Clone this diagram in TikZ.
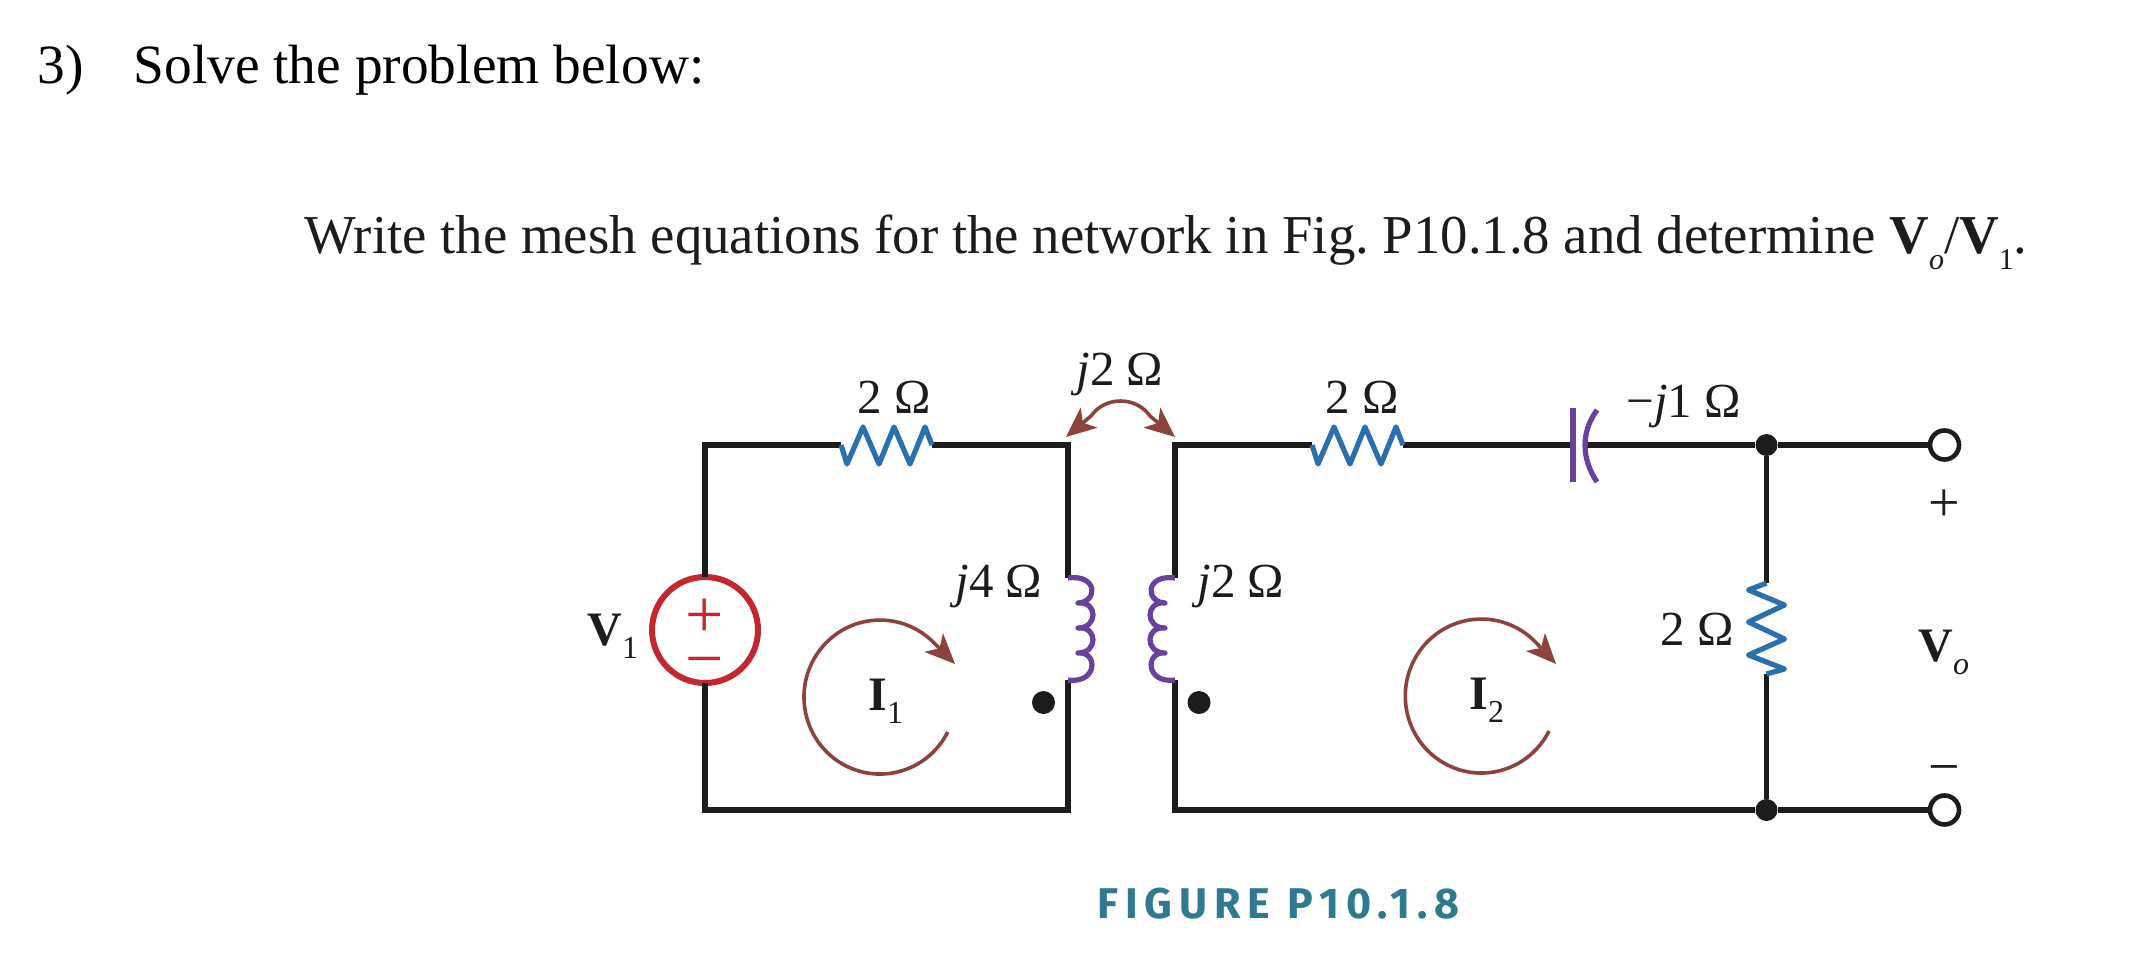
\documentclass[tikz,border=0pt]{standalone}
\usepackage{fontspec}
\setmainfont{Liberation Serif}
\newfontfamily\captionfont[LetterSpace=16]{Fira Sans}
\usetikzlibrary{arrows.meta}

\definecolor{inkblack}{HTML}{1C1C1C}
\definecolor{resblue}{HTML}{2B70AE}
\definecolor{srcred}{HTML}{C4282E}
\definecolor{coilpurple}{HTML}{68409E}
\definecolor{loopbrown}{HTML}{8E423D}
\definecolor{capteal}{HTML}{2F7A90}

\newcommand{\lowsub}[2]{\raisebox{-0.28em}{\fontsize{#1}{#1}\selectfont #2}}

\tikzset{
	wire/.style={line width=2.6pt, draw=inkblack},
	res/.style={line width=2.6pt, draw=resblue, line join=round},
	coil/.style={line width=2.6pt, draw=coilpurple, line join=round},
	loopi/.style={line width=1.8pt, draw=loopbrown},
	headi/.style={-{Stealth[length=15pt,width=13pt,inset=4pt,fill=loopbrown]}},
	headii/.style={{Stealth[length=15pt,width=13pt,inset=4pt,fill=loopbrown]}-{Stealth[length=15pt,width=13pt,inset=4pt,fill=loopbrown]}},
	lbl/.style={anchor=base west, inner sep=0pt, text=inkblack, font=\fontsize{24.5}{28}\selectfont},
	bold/.style={lbl, font=\fontsize{24}{28}\selectfont},
	sign/.style={anchor=base, inner sep=0pt, text=inkblack, font=\fontsize{28}{28}\selectfont},
	junct/.style={circle, fill=inkblack, inner sep=0pt, minimum size=11pt},
	dotm/.style={circle, fill=inkblack, inner sep=0pt, minimum size=11.5pt},
	term/.style={circle, draw=inkblack, fill=white, line width=2.3pt, inner sep=0pt, minimum size=14.5pt},
}

\begin{document}
\frenchspacing
\begin{tikzpicture}[x=0.5pt, y=-0.5pt]
	\useasboundingbox (0, 0) rectangle (2146, 968);

	\node[lbl, text=black, font=\fontsize{27.7}{32}\selectfont] (title) at (37, 84) {3)\hspace{25pt}Solve the problem below:};
	\node[lbl, font=\fontsize{27.4}{30}\selectfont] (prob) at (304, 254) {Write the mesh equations for the network in Fig. P10.1.8 and determine \textbf{V}\lowsub{15}{\textit{o}}/\textbf{V}\lowsub{15}{1}.};

	\node[circle, draw=srcred, line width=3pt, fill=white, inner sep=0pt, outer sep=0pt, minimum size=53pt] (Vs) at (705, 630) {};
	\node[align=center, inner sep=0pt, text=srcred, font=\fontsize{34}{22}\selectfont] (Vsign) at (705, 640) {+\\−};
	\node[bold] (V1) at (587, 645) {\textbf{V}\lowsub{16}{1}};

	\coordinate (c1) at (705, 445);
	\coordinate (c2) at (1068, 445);
	\coordinate (c3) at (705, 810);
	\coordinate (c4) at (1068, 810);
	\coordinate (c5) at (1175, 445);
	\coordinate (c6) at (1175, 810);
	\coordinate (R1a) at (841, 445);
	\coordinate (R1b) at (932, 445);
	\coordinate (R2a) at (1312, 445);
	\coordinate (R2b) at (1403, 445);
	\coordinate (R3a) at (1766.5, 583);
	\coordinate (R3b) at (1766.5, 674);
	\coordinate (L1a) at (1068, 578);
	\coordinate (L1b) at (1068, 680);
	\coordinate (L2a) at (1175, 578);
	\coordinate (L2b) at (1175, 680);
	\coordinate (Ca) at (1573, 445);
	\coordinate (Cb) at (1585, 445);
	\coordinate (M1) at (1066, 437);
	\coordinate (M2) at (1175, 437);
	\coordinate (Ma) at (1091, 416);
	\coordinate (Mb) at (1150, 416);
	\coordinate (I1s) at (947.7, 732);
	\coordinate (I1t) at (955, 664);
	\coordinate (I2s) at (1549, 731);
	\coordinate (I2t) at (1556, 664);

	\node[junct] (n1) at (1766.5, 445) {};
	\node[junct] (n2) at (1766.5, 810) {};
	\node[term] (t1) at (1944.5, 445) {};
	\node[term] (t2) at (1944.5, 810) {};
	\node[dotm] (d1) at (1043.5, 702.5) {};
	\node[dotm] (d2) at (1199, 702.5) {};

	\draw[wire] (Vs.north) -- (c1) -- (R1a);
	\draw[wire] (R1b) -- (c2) -- (L1a);
	\draw[wire] (Vs.south) -- (c3) -- (c4) -- (L1b);
	\draw[wire] (L2a) -- (c5) -- (R2a);
	\draw[wire] (L2b) -- (c6) -- (n2);
	\draw[wire] (R2b) -- (Ca);
	\draw[wire] (Cb) -- (n1);
	\draw[wire] (n1) -- (t1);
	\draw[wire] (n2) -- (t2);
	\draw[wire] (n1) -- (R3a);
	\draw[wire] (R3b) -- (n2);

	\draw[res] (R1a) -- ++(6, 19) -- ++(16, -37) -- ++(16, 37) -- ++(15, -37) -- ++(16, 37) -- ++(15, -37) -- (R1b);
	\draw[res] (R2a) -- ++(6, 19) -- ++(16, -37) -- ++(16, 37) -- ++(15, -37) -- ++(16, 37) -- ++(15, -37) -- (R2b);
	\draw[res] (R3a) -- ++(-18, 7) -- ++(36, 15) -- ++(-36, 17) -- ++(36, 17) -- ++(-36, 16) -- ++(36, 14) -- (R3b);

	\draw[coil] (L1a) .. controls (1098, 574) and (1098, 602) .. (1078, 603)
		.. controls (1098, 601) and (1098, 628) .. (1078, 628)
		.. controls (1098, 626) and (1098, 653) .. (1078, 653)
		.. controls (1098, 651) and (1098, 684) .. (L1b);
	\draw[coil] (L2a) .. controls (1145, 574) and (1145, 602) .. (1165, 603)
		.. controls (1145, 601) and (1145, 628) .. (1165, 628)
		.. controls (1145, 626) and (1145, 653) .. (1165, 653)
		.. controls (1145, 651) and (1145, 684) .. (L2b);

	\draw[coil] (1573, 408) -- (1573, 482);
	\draw[coil] (1597, 410) .. controls (1581, 432) and (1581, 458) .. (1597, 482);

	\draw[loopi, headi] (I1s) arc[start angle=27, end angle=315, x radius=76, y radius=77] -- (I1t);
	\draw[loopi, headi] (I2s) arc[start angle=27, end angle=315, x radius=76, y radius=77] -- (I2t);
	\draw[loopi, headii] (M1) -- (Ma) .. controls (1105, 396) and (1136, 396) .. (Mb) -- (M2);

	\node[lbl] (lR1) at (857, 413) {2 Ω};
	\node[lbl] (lR2) at (1325, 413) {2 Ω};
	\node[lbl] (lR3) at (1660, 645) {2 Ω};
	\node[lbl] (lM) at (1076, 385) {\textit{j}2 Ω};
	\node[lbl] (lL1) at (955, 597) {\textit{j}4 Ω};
	\node[lbl] (lL2) at (1197, 597) {\textit{j}2 Ω};
	\node[lbl] (lC) at (1626, 417) {−\textit{j}1 Ω};
	\node[bold] (lI1) at (868, 710) {\textbf{I}\lowsub{16}{1}};
	\node[bold] (lI2) at (1469, 709) {\textbf{I}\lowsub{16}{2}};
	\node[bold] (lVo) at (1918, 661) {\textbf{V}\lowsub{16}{\textit{o}}};
	\node[sign] (tp) at (1944.5, 521) {+};
	\node[sign] (tm) at (1944.5, 785) {−};
	\node[anchor=base west, inner sep=0pt, text=capteal, font=\captionfont\bfseries\fontsize{21.5}{24}\selectfont] (cap) at (1097, 918) {FIGURE P10.1.8};
\end{tikzpicture}
\end{document}
